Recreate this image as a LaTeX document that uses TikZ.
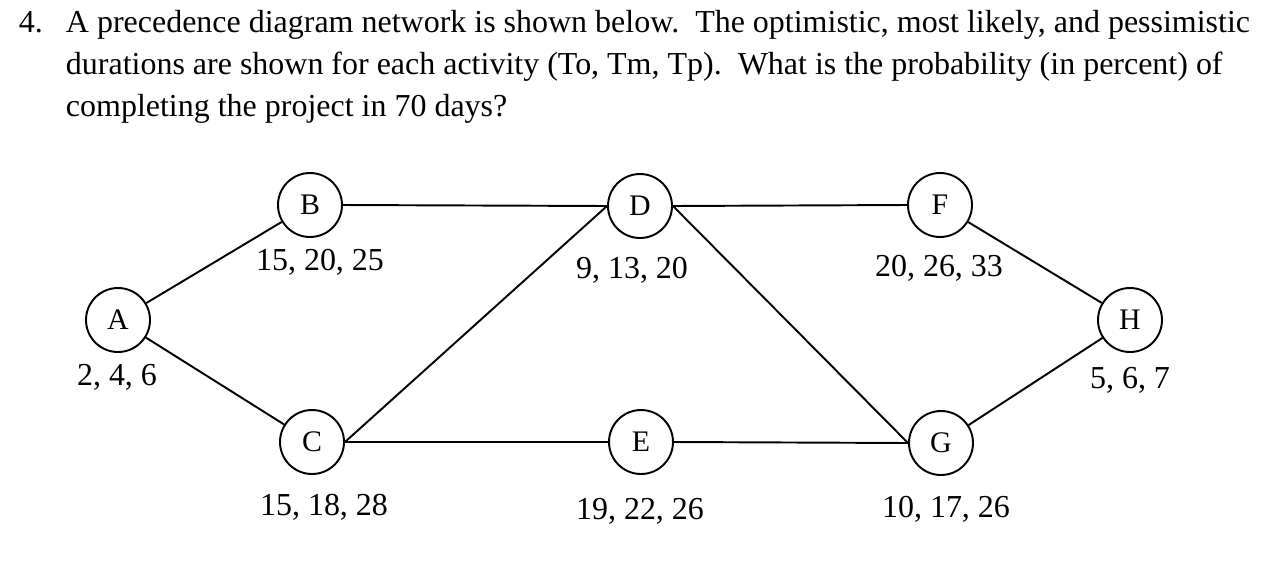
\documentclass[tikz,border=0pt]{standalone}
\usepackage{fontspec}
\setmainfont{Liberation Serif}
\usetikzlibrary{positioning}

\tikzset{
  act/.style={circle, draw, line width=1.1pt, minimum size=1.28cm, inner sep=0pt, font=\fontsize{17}{20}\selectfont},
  dur/.style={anchor=base, inner sep=0pt, font=\fontsize{18.2}{22}\selectfont},
  qline/.style={anchor=base west, inner sep=0pt, font=\fontsize{18.2}{22}\selectfont}
}

\begin{document}
\begin{tikzpicture}[x=0.02cm, y=-0.02cm, line width=1.1pt]
        %\draw [step=50] (0,0) grid (1282,572);
        \useasboundingbox (0,0) rectangle (1282,572);

        \node[qline] (num) at (18,32) {4.};
        \node[qline] (q1) at (65,32) {A precedence diagram network is shown below.\ \ The optimistic, most likely, and pessimistic};
        \node[qline] (q2) at (65,74) {durations are shown for each activity (To, Tm, Tp).\ \ What is the probability (in percent) of};
        \node[qline] (q3) at (65,116) {completing the project in 70 days?};

        \node[act] (A) at (118,320) {A};
        \node[act] (B) at (310,205) {B};
        \node[act] (D) at (640,206) {D};
        \node[act] (F) at (940,205) {F};
        \node[act] (C) at (312,442) {C};
        \node[act] (E) at (641,442) {E};
        \node[act] (G) at (941,443) {G};
        \node[act] (H) at (1130,320) {H};

        \draw (A) -- (B);
        \draw (A) -- (C);
        \draw (B.east) -- (D.west);
        \draw (C.east) -- (D.west);
        \draw (C.east) -- (E.west);
        \draw (D.east) -- (F.west);
        \draw (D.east) -- (G.west);
        \draw (E.east) -- (G.west);
        \draw (F) -- (H);
        \draw (G) -- (H);

        \node[dur] (tA) at (117,385) {2, 4, 6};
        \node[dur] (tB) at (320,270) {15, 20, 25};
        \node[dur] (tC) at (324,515) {15, 18, 28};
        \node[dur] (tD) at (632,278) {9, 13, 20};
        \node[dur] (tE) at (640,519) {19, 22, 26};
        \node[dur] (tF) at (939,276) {20, 26, 33};
        \node[dur] (tG) at (946,517) {10, 17, 26};
        \node[dur] (tH) at (1130,388) {5, 6, 7};
    \end{tikzpicture}
\end{document}
